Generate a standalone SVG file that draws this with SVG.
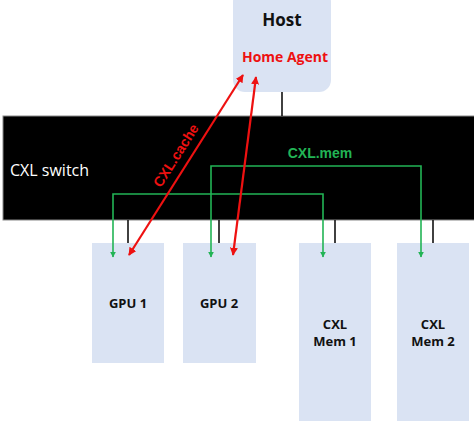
<svg xmlns="http://www.w3.org/2000/svg" width="474" height="421" viewBox="0 0 474 421">
<defs>
<style>
.box{fill:#dae3f3;}
.lbl{font-family:"Open Sans","Liberation Sans",sans-serif;font-weight:bold;font-size:13px;fill:#111;text-anchor:middle;}
.g{stroke:#22b455;stroke-width:1.6;fill:none;}
.r{stroke:#ee1111;stroke-width:2.2;fill:none;}
.k{stroke:#111;stroke-width:1.6;}
</style>
<marker id="ga" viewBox="0 0 10 10" refX="9" refY="5" markerWidth="6" markerHeight="6" orient="auto-start-reverse" markerUnits="userSpaceOnUse"><path d="M0,0 L10,5 L0,10 z" fill="#22b455"/></marker>
<marker id="ra" viewBox="0 0 10 10" refX="9" refY="5" markerWidth="8" markerHeight="8" orient="auto-start-reverse" markerUnits="userSpaceOnUse"><path d="M0,0 L10,5 L0,10 z" fill="#ee1111"/></marker>
</defs>
<rect width="474" height="421" fill="#fff"/>
<g id="switch">
<rect x="3" y="116" width="472" height="104" fill="#000" stroke="#888" stroke-width="1"/>
<text x="10" y="176" font-family="Open Sans,Liberation Sans,sans-serif" font-size="16" fill="#fff">CXL switch</text>
</g>
<g id="host">
<rect x="233" y="-10" width="98" height="102" rx="12" class="box"/>
<text x="282" y="26" class="lbl" style="font-size:17px">Host</text>
<text x="285" y="62" class="lbl" style="fill:#ee1111;font-size:14px">Home Agent</text>
</g>
<g id="gpu1"><rect x="92" y="243" width="72" height="120" class="box"/><text x="128" y="308" class="lbl">GPU 1</text></g>
<g id="gpu2"><rect x="183" y="243" width="73" height="120" class="box"/><text x="219" y="308" class="lbl">GPU 2</text></g>
<g id="mem1"><rect x="299" y="243" width="72" height="180" class="box"/><text x="335" y="329" class="lbl">CXL</text><text x="335" y="346" class="lbl">Mem 1</text></g>
<g id="mem2"><rect x="397" y="243" width="72" height="180" class="box"/><text x="433" y="329" class="lbl">CXL</text><text x="433" y="346" class="lbl">Mem 2</text></g>
<g id="connectors">
<line x1="282" y1="92" x2="282" y2="116" class="k"/>
<line x1="128" y1="220" x2="128" y2="243" class="k"/>
<line x1="219" y1="220" x2="219" y2="243" class="k"/>
<line x1="335" y1="220" x2="335" y2="243" class="k"/>
<line x1="433" y1="220" x2="433" y2="243" class="k"/>
<path d="M113,257 V194 H323 V257" class="g" marker-start="url(#ga)" marker-end="url(#ga)"/>
<path d="M211,257 V166 H421 V257" class="g" marker-start="url(#ga)" marker-end="url(#ga)"/>
<line x1="129" y1="255" x2="243" y2="75" class="r" marker-start="url(#ra)" marker-end="url(#ra)"/>
<line x1="233" y1="255" x2="256" y2="77" class="r" marker-start="url(#ra)" marker-end="url(#ra)"/>
<text x="320" y="158" font-family="Liberation Sans,Arial,sans-serif" font-weight="bold" font-size="14" fill="#22b455" text-anchor="middle">CXL.mem</text>
<text transform="translate(180,158) rotate(-57.5)" font-family="Liberation Sans,Arial,sans-serif" font-weight="bold" font-size="14" fill="#ee1111" text-anchor="middle">CXL.cache</text>
</g>
</svg>
